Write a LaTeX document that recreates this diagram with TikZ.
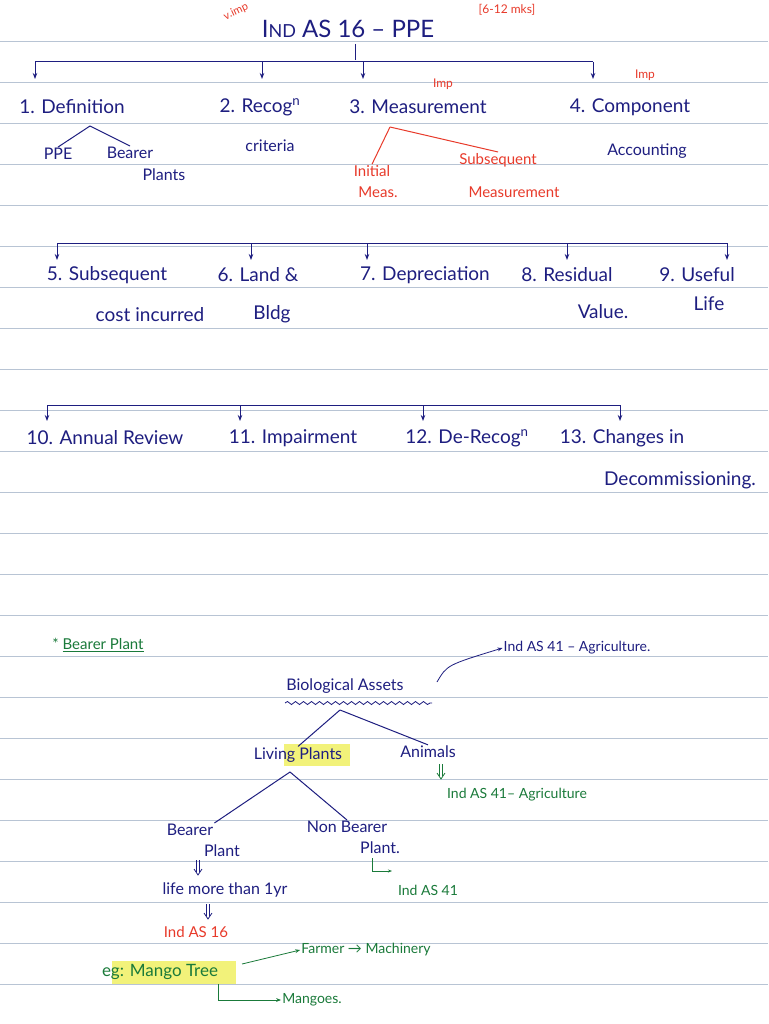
\documentclass[tikz,border=0pt]{standalone}
\usepackage{fontspec}
\setmainfont{Lato}
\usetikzlibrary{arrows.meta,decorations.pathmorphing}
\definecolor{ink}{HTML}{1E1E80}
\definecolor{redink}{HTML}{E83A2A}
\definecolor{greenink}{HTML}{1A7A3A}
\definecolor{rule}{HTML}{B8C4D4}
\definecolor{hl}{HTML}{F2F27A}
\tikzset{
  lab/.style={text=ink,font=\fontsize{19}{21}\selectfont,inner sep=1pt},
  sub/.style={text=ink,font=\fontsize{16}{18}\selectfont,inner sep=1pt},
  rlab/.style={text=redink,font=\fontsize{15}{17}\selectfont,inner sep=1pt},
  glab/.style={text=greenink,font=\fontsize{14}{16}\selectfont,inner sep=1pt},
  conn/.style={draw=ink,line width=1pt},
  rconn/.style={draw=redink,line width=1pt},
  darr/.style={draw=ink,line width=1pt,-{Stealth[length=6pt]}},
  dbl/.style={line width=0.8pt}
}
\newcommand{\dblarrow}[3]{% x, y1, y2, colour
  \draw[dbl,#3] (#1-1.5,#2) -- (#1-1.5,#2+12) (#1+1.5,#2) -- (#1+1.5,#2+12);
  \draw[dbl,#3] (#1-4,#2+9) -- (#1,#2+15) -- (#1+4,#2+9);}
\begin{document}
\begin{tikzpicture}[x=1pt,y=-1pt]
\useasboundingbox[fill=white] (0,0) rectangle (768,1024);
\foreach \y in {41,82,...,1010} \draw[rule,line width=0.5pt] (0,\y) -- (768,\y);
% title
\node[text=ink,font=\fontsize{24}{26}\selectfont] (title) at (348,29) {I{\fontsize{18}{20}\selectfont ND} AS 16 – PPE};
\node[rlab,rotate=25,font=\fontsize{11}{12}\selectfont] (vimp) at (236,12) {v.imp};
\node[rlab,font=\fontsize{12}{13}\selectfont] (mks) at (507,10) {[6-12 mks]};
\coordinate (t1) at (355,44); \coordinate (t2) at (355,60);
\draw[conn] (t1) -- (t2);
\draw[conn] (35,62) -- (593,62);
\foreach \x in {35,262,363,593} \draw[darr] (\x,62) -- (\x,79);
\node[rlab,font=\fontsize{12}{13}\selectfont] (imp1) at (443,84) {Imp};
\node[rlab,font=\fontsize{12}{13}\selectfont] (imp2) at (645,75) {Imp};
\node[lab] (d1) at (72,107) {1. Definition};
\node[lab] (d2) at (260,107) {2. Recog\textsuperscript{n}};
\node[lab] (d3) at (418,107) {3. Measurement};
\node[lab] (d4) at (630,107) {4. Component};
\node[sub] (ppe) at (58,154) {PPE};
\node[sub] (bea) at (130,153) {Bearer};
\node[sub] (pla) at (164,175) {Plants};
\draw[conn] (90,126) -- (ppe.north); \draw[conn] (90,126) -- (bea.north);
\node[sub] (crit) at (270,146) {criteria};
\node[sub] (acc) at (647,151) {Accounting};
\node[rlab] (ini) at (372,171) {Initial};
\node[rlab] (mea) at (378,192) {Meas.};
\node[rlab] (subs) at (498,160) {Subsequent};
\node[rlab] (subm) at (514,192) {Measurement};
\draw[rconn] (390,127) -- (ini.north); \draw[rconn] (390,127) -- (subs.north);
% row 2
\draw[conn] (57,243) -- (727,243);
\foreach \x in {57,251,367,567,727} \draw[darr] (\x,243) -- (\x,260);
\node[lab] (d5) at (107,275) {5. Subsequent};
\node[lab] (d6) at (258,275) {6. Land \& };
\node[lab] (d7) at (425,275) {7. Depreciation};
\node[lab] (d8) at (567,275) {8. Residual};
\node[lab] (d9) at (697,275) {9. Useful};
\node[lab] (d5b) at (150,315) {cost incurred};
\node[lab] (d6b) at (272,314) {Bldg};
\node[lab] (d8b) at (603,312) {Value.};
\node[lab] (d9b) at (709,304) {Life};
% row 3
\draw[conn] (47,405) -- (620,405);
\foreach \x in {47,240,423,620} \draw[darr] (\x,405) -- (\x,421);
\node[lab] (d10) at (105,438) {10. Annual Review};
\node[lab] (d11) at (293,438) {11. Impairment};
\node[lab] (d12) at (467,438) {12. De-Recog\textsuperscript{n}};
\node[lab] (d13) at (622,438) {13. Changes in};
\node[lab] (d13b) at (680,480) {Decommissioning.};
% bearer plant
\node[text=greenink,font=\fontsize{15}{17}\selectfont] (bp) at (98,645) {* \underline{Bearer Plant}};
\node[sub] (bio) at (345,686) {Biological Assets};
\draw[ink,line width=0.8pt,decorate,decoration={snake,amplitude=1.5pt,segment length=8pt}] (285,703) -- (432,703);
\node[glab,text=ink] (ia41) at (577,648) {Ind AS 41 – Agriculture.};
\draw[ink,line width=0.8pt,-{Stealth[length=5pt]}] (437,682) .. controls (447,665) .. (ia41.west);
\fill[hl] (284,744) rectangle (350,766);
\node[sub] (liv) at (298,755) {Living Plants};
\node[sub] (ani) at (428,752) {Animals};
\draw[conn] (340,710) -- (liv.north); \draw[conn] (340,710) -- (ani.north);
\dblarrow{441}{764}{greenink}
\node[glab] (ag) at (517,795) {Ind AS 41– Agriculture};
\node[sub] (bear) at (190,830) {Bearer};
\node[sub] (bearp) at (222,851) {Plant};
\node[sub] (nb) at (347,827) {Non Bearer};
\node[sub] (nbp) at (380,848) {Plant.};
\draw[conn] (290,772) -- (bear.north east); \draw[conn] (290,772) -- (nb.north);
\dblarrow{198}{860}{ink}
\node[sub] (life) at (225,890) {life more than 1yr};
\dblarrow{208}{904}{ink}
\node[rlab] (ia16) at (196,932) {Ind AS 16};
\node[glab] (ia41b) at (428,890) {Ind AS 41};
\coordinate (n1) at (372,858);
\draw[greenink,line width=0.8pt,-{Stealth[length=4pt]}] (n1) |- (392,871);
\fill[hl] (112,961) rectangle (236,984);
\node[text=greenink,font=\fontsize{17}{19}\selectfont] (eg) at (160,972) {eg: Mango Tree};
\node[glab] (farm) at (366,950) {Farmer → Machinery};
\draw[greenink,line width=0.8pt,-{Stealth[length=5pt]}] (242,964) -- (farm.west);
\node[glab] (mg) at (312,1000) {Mangoes.};
\coordinate (m1) at (218,984);
\draw[greenink,line width=0.8pt,-{Stealth[length=5pt]}] (m1) |- (mg.west);
\end{tikzpicture}
\end{document}
